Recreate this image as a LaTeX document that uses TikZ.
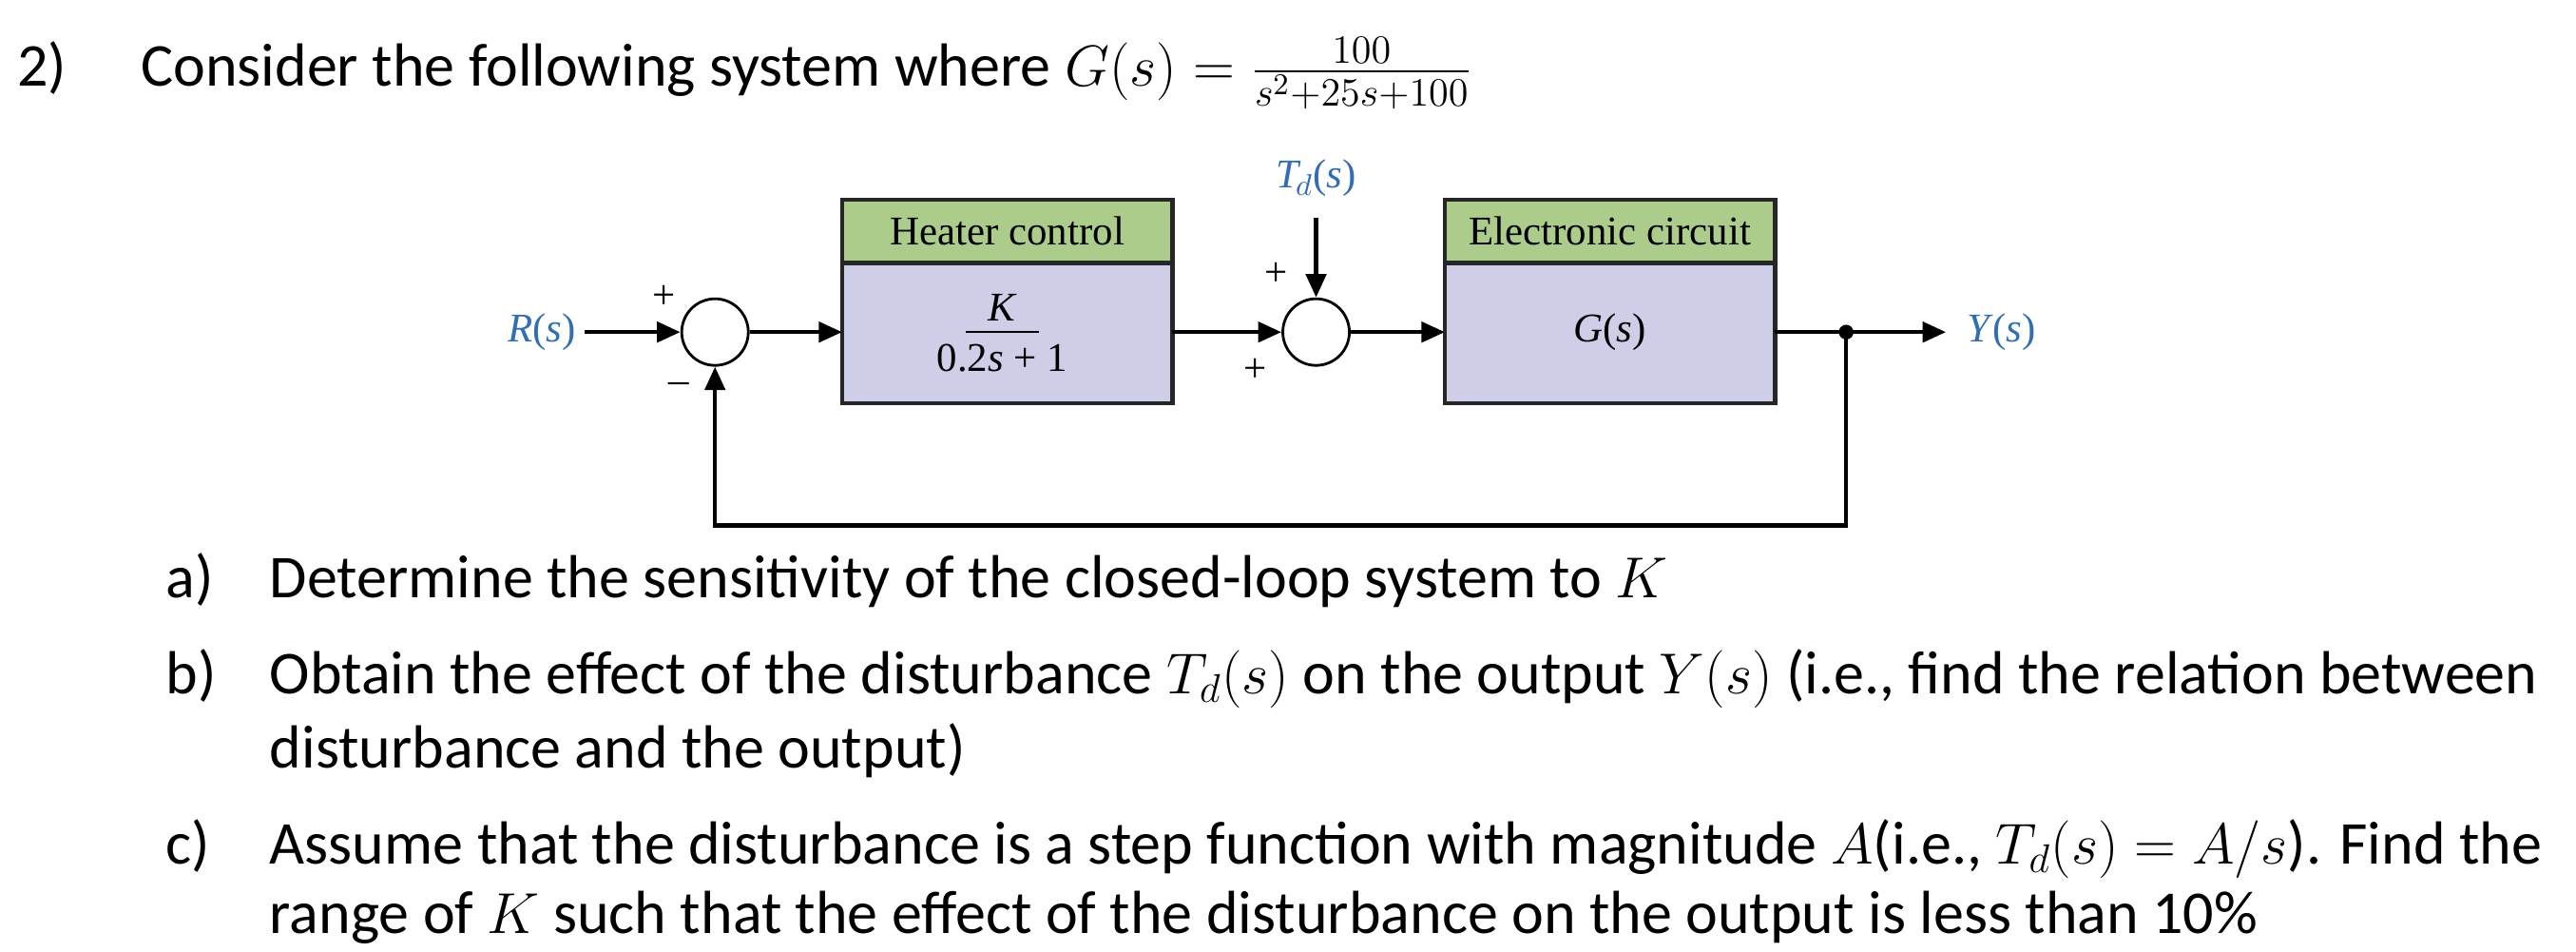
\documentclass[tikz,border=0pt]{standalone}
\usepackage{fontspec}
\setmainfont{Carlito}
\newfontfamily\tms{Liberation Serif}
\usetikzlibrary{arrows.meta}
\definecolor{hdr}{RGB}{172,204,140}
\definecolor{bdy}{RGB}{206,206,232}
\definecolor{lbl}{RGB}{50,110,180}
\begin{document}
\begin{tikzpicture}[x=0.017372cm,y=-0.017372cm,
  txt/.style={anchor=base west,inner sep=0,font=\fontsize{18.2}{21}\selectfont},
  dg/.style={font=\tms\fontsize{12.2}{14}\selectfont,inner sep=0},
  lb/.style={dg,text=lbl},
  sig/.style={line width=1.3pt,-{Triangle[length=7pt,width=6pt]}},
  hbox/.style={draw=black!85,line width=1.3pt,fill=hdr},
  bbox/.style={draw=black!85,line width=1.3pt,fill=bdy}]
\useasboundingbox (0,0) rectangle (1560,576);
% title
\node[txt] (n2) at (10,52) {2)};
\node[txt] (q) at (85,52) {Consider the following system where $G(s)=\frac{100}{s^2+25s+100}$};
% boxes
\path[bbox] (510,159) rectangle (710,244);
\path[hbox] (510,121) rectangle (710,159);
\path[bbox] (875,159) rectangle (1075,244);
\path[hbox] (875,121) rectangle (1075,159);
\node[dg] (hc) at (610,140) {Heater control};
\node[dg] (ec) at (975,140) {Electronic circuit};
\node[dg] (kk) at (607,186) {\textit{K}};
\draw[line width=0.7pt] (585,201) -- (629,201);
\node[dg] (kd) at (607,217) {0.2\textit{s} + 1};
\node[dg] (gs) at (975,201) {\textit{G}(\textit{s})};
\coordinate (hin) at (510,201); \coordinate (hout) at (710,201);
\coordinate (ein) at (875,201); \coordinate (eout) at (1075,201);
% sums
\node[circle,draw,line width=0.8pt,minimum size=0.70cm,inner sep=0] (s1) at (433,201) {};
\node[circle,draw,line width=0.8pt,minimum size=0.70cm,inner sep=0] (s2) at (797,201) {};
\node[lb] (R) at (328,201) {\textit{R}(\textit{s})};
\node[lb] (Y) at (1212,201) {\textit{Y}(\textit{s})};
\node[lb] (Td) at (797,108) {\textit{T}$_{\!d}$(\textit{s})};
\coordinate (tdtop) at (797,132);
\coordinate (br) at (1118,201);
\coordinate (fb1) at (1118,318);
\coordinate (fb2) at (433,318);
\draw[sig] (R.east) ++(5,0) -- (s1.west);
\draw[sig] (s1.east) -- (hin);
\draw[sig] (hout) -- (s2.west);
\draw[sig] (s2.east) -- (ein);
\draw[sig] (eout) -- ([xshift=-6]Y.west);
\draw[sig] (tdtop) -- (s2.north);
\draw[sig] (br) -- (fb1) -- (fb2) -- (s1.south);
\fill (br) circle (2.2pt);
\node[dg] (p1) at (402,180) {+};
\node[dg] (m1) at (411,235) {\textendash};
\node[dg] (p2) at (773,166) {+};
\node[dg] (p3) at (760,224) {+};
% questions
\node[txt] (a) at (100,362) {a)};
\node[txt] (at) at (163,362) {Determine the sensitivity of the closed-loop system to $K$};
\node[txt] (b) at (100,420) {b)};
\node[txt] (bt) at (163,420) {Obtain the effect of the disturbance $T_d(s)$ on the output $Y(s)$ (i.e., find the relation between};
\node[txt] (bt2) at (163,465) {disturbance and the output)};
\node[txt] (c) at (100,523) {c)};
\node[txt] (ct) at (163,523) {Assume that the disturbance is a step function with magnitude $A$(i.e., $T_d(s)=A/s$). Find the};
\node[txt] (ct2) at (163,565) {range of $K$ such that the effect of the disturbance on the output is less than 10\%};
\end{tikzpicture}
\end{document}
